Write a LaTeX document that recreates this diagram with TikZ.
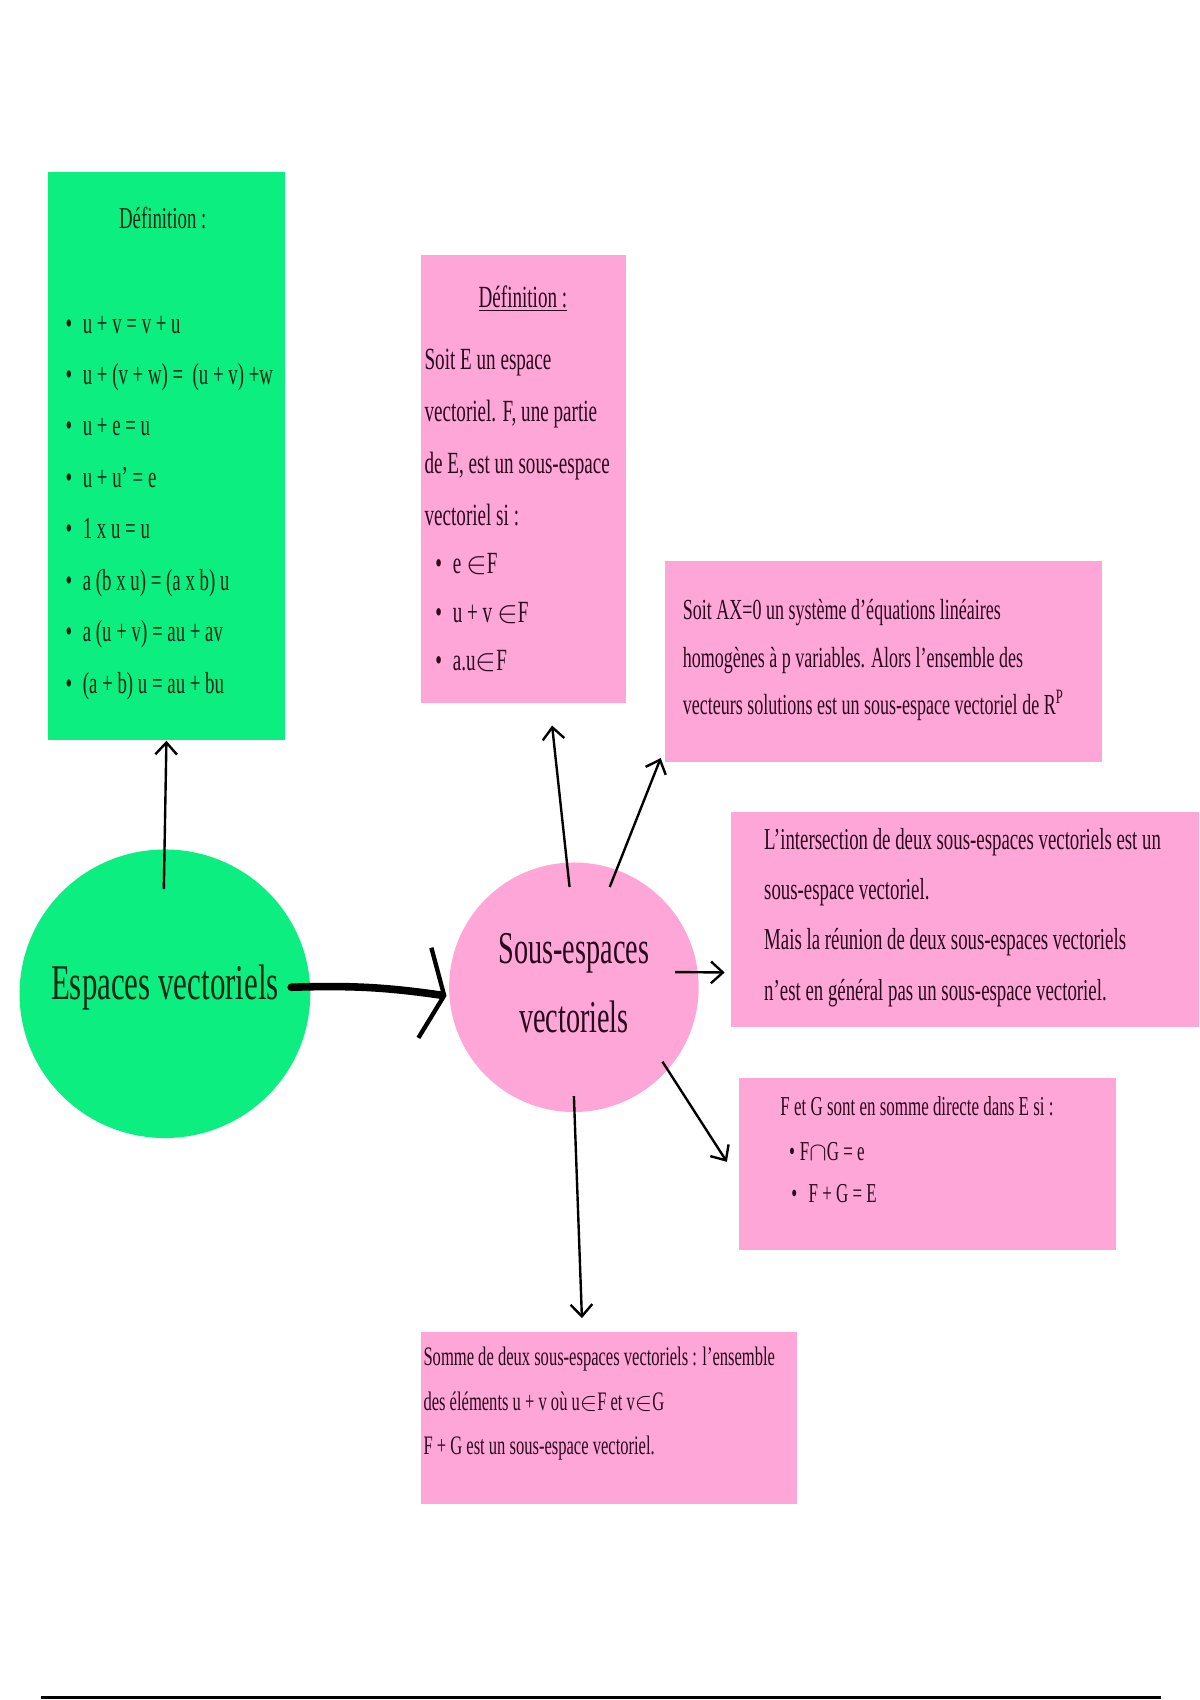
\documentclass[tikz,border=0pt]{standalone}
\usepackage{fontspec}
\setmainfont{Liberation Serif}[FakeStretch=0.62]
\usetikzlibrary{
    shapes.geometric,
    arrows.meta,
    calc,
    positioning
}
\definecolor{vertvif}{RGB}{12,239,128}
\definecolor{rosevif}{RGB}{255,166,216}
\definecolor{encrerose}{RGB}{40,8,30}
\definecolor{encrevert}{RGB}{8,40,18}
\tikzset{
    boite/.style={rectangle, anchor=north west, inner sep=0pt, draw=none},
    ligne/.style={anchor=base west, inner sep=0pt},
    fleche/.style={line width=1.1pt, -{Straight Barb[length=5.5pt,width=10pt]}}
}
\newcommand{\puce}{\makebox[8pt][l]{\textbullet}}

\begin{document}
\begin{tikzpicture}[x=0.5pt, y=-0.5pt]
                        \useasboundingbox (0,0) rectangle (1106,1567);
                        % boites
                        \node[boite, fill=vertvif, minimum width=109pt, minimum height=262pt] (gdef) at (44,158) {};
                        \node[boite, fill=rosevif, minimum width=94.5pt, minimum height=206.5pt] (pdef) at (388,235) {};
                        \node[boite, fill=rosevif, minimum width=201pt, minimum height=92.5pt] (ax) at (613,517) {};
                        \node[boite, fill=rosevif, minimum width=216pt, minimum height=99pt] (inter) at (673,748) {};
                        \node[boite, fill=rosevif, minimum width=173.5pt, minimum height=79.5pt] (fg) at (681,993) {};
                        \node[boite, fill=rosevif, minimum width=173pt, minimum height=79.5pt] (somme) at (388,1227) {};
                        % bulles
                        \node[ellipse, fill=vertvif, minimum width=134pt, minimum height=133pt, inner sep=0pt] (ev) at (152,916) {};
                        \node[text=encrevert, font=\fontsize{23}{28}\selectfont] (evt) at (152,910) {Espaces vectoriels};
                        \node[ellipse, fill=rosevif, minimum width=115pt, minimum height=115pt, inner sep=0pt] (sev) at (529,910) {};
                        \node[align=center, text=encrerose, font=\fontsize{21}{32}\selectfont] (sevt) at (529,906) {Sous-espaces\\vectoriels};
                        % textes
                        \node[ligne, anchor=base, text=encrevert, font=\fontsize{14}{17}\selectfont] (gtitre) at (150,211) {Définition :};
                        \foreach \txt [count=\i] in {u + v = v + u, u + (v + w) =~ (u + v) +w, u + e = u, u + u' = e,
                            1 x u = u, a (b x u) = (a x b) u, a (u + v) = au + av, (a + b) u = au + bu}
                            \node[ligne, text=encrevert, font=\fontsize{14}{17}\selectfont] (g\i) at (60,{307+47.4*(\i-1)}) {\puce\txt};
                        \node[ligne, anchor=base, text=encrerose, font=\fontsize{14.2}{17}\selectfont] (ptitre) at (482,283) {\underline{Définition :}};
                        \foreach \txt [count=\i] in {Soit E un espace, {vectoriel. F, une partie}, {de E, est un sous-espace}, vectoriel si :}
                            \node[ligne, text=encrerose, font=\fontsize{14.2}{17}\selectfont] (p\i) at (391,{341+47.7*(\i-1)}) {\txt};
                        \foreach \txt [count=\i] in {e $\in$F, u + v $\in$F, a.u$\in$F}
                            \node[ligne, text=encrerose, font=\fontsize{14.2}{17}\selectfont] (q\i) at (401,{529+44.5*(\i-1)}) {\puce\txt};
                        \foreach \txt [count=\i] in {Soit AX=0 un système d'équations linéaires,
                            homogènes à p variables. Alors l'ensemble des,
                            vecteurs solutions est un sous-espace vectoriel de R\textsuperscript{P}}
                            \node[ligne, text=encrerose, font=\fontsize{13.4}{17}\selectfont] (a\i) at (629,{571+44*(\i-1)}) {\txt};
                        \foreach \txt [count=\i] in {L'intersection de deux sous-espaces vectoriels est un,
                            sous-espace vectoriel., Mais la réunion de deux sous-espaces vectoriels,
                            n'est en général pas un sous-espace vectoriel.}
                            \node[ligne, text=encrerose, font=\fontsize{14}{17}\selectfont] (i\i) at (704,{783+46.3*(\i-1)}) {\txt};
                        \node[ligne, text=encrerose, font=\fontsize{12.6}{15}\selectfont] (f1) at (719,1028) {F et G sont en somme directe dans E si :};
                        \node[ligne, text=encrerose, font=\fontsize{12.6}{15}\selectfont] (f2) at (727,1070) {\makebox[5pt][l]{\textbullet}F$\cap$G = e};
                        \node[ligne, text=encrerose, font=\fontsize{12.6}{15}\selectfont] (f3) at (729,1108) {\puce F + G = E};
                        \foreach \txt [count=\i] in {Somme de deux sous-espaces vectoriels : l'ensemble,
                            des éléments u + v où u$\in$F et v$\in$G, F + G est un sous-espace vectoriel.}
                            \node[ligne, text=encrerose, font=\fontsize{12.3}{15}\selectfont] (s\i) at (390,{1259+41*(\i-1)}) {\txt};
                        % fleches
                        \draw[line width=3.5pt, line cap=round, -{Straight Barb[length=9pt,width=42pt,line width=2pt]}]
                        ($(ev.east)+(-18,-6)$) to[bend left=5] ($(sev.west)+(-2,8)$);
                        \draw[fleche] ($(ev.north)+(-1,37)$) -- (gdef.south);
                        \draw[fleche] ($(sev.north)+(-4,23)$) -- ($(pdef.south)+(26,20)$);
                        \draw[fleche] ($(sev.north)+(33,23)$) -- ($(ax.south west)+(-4,-4)$);
                        \draw[fleche] ($(sev.east)+(-22,-14)$) -- ($(inter.west)+(-5,49)$);
                        \draw[fleche] ($(sev.south east)+(0,-13)$) -- ($(fg.west)+(-11,-2)$);
                        \draw[fleche] ($(sev.south)+(0,-15)$) -- ($(somme.north)+(-25,-12)$);
                        % trait du bas
                        \draw[line width=1.5pt] (38,1565) -- (1070,1565);
\end{tikzpicture}
\end{document}
